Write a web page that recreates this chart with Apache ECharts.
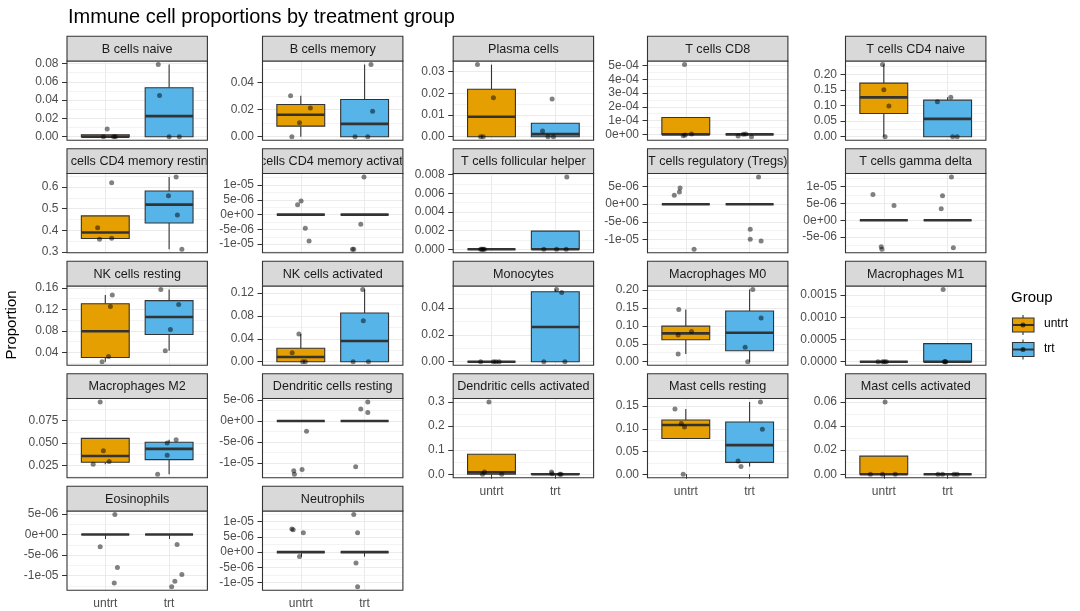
<!DOCTYPE html>
<html><head><meta charset="utf-8">
<script src="https://cdn.jsdelivr.net/npm/echarts@6/dist/echarts.min.js"></script>
<style>html,body{margin:0;padding:0;background:#fff}#c{width:1080px;height:611px}</style>
</head><body><div id="c"></div>
<script>
const panelNames = ['B cells naive','B cells memory','Plasma cells','T cells CD8','T cells CD4 naive',
  'T cells CD4 memory resting','T cells CD4 memory activated','T cells follicular helper','T cells regulatory (Tregs)','T cells gamma delta',
  'NK cells resting','NK cells activated','Monocytes','Macrophages M0','Macrophages M1',
  'Macrophages M2','Dendritic cells resting','Dendritic cells activated','Mast cells resting','Mast cells activated',
  'Eosinophils','Neutrophils'];
const groups = ['untrt','trt'];
const groupColors = ['#E69F00','#56B4E9'];
const chartTitle = 'Immune cell proportions by treatment group';
const yTitle = 'Proportion';
const legendTitle = 'Group';

const yBreaks = [
  [0,0.02,0.04,0.06,0.08],[0,0.02,0.04],[0,0.01,0.02,0.03],[0,1e-4,2e-4,3e-4,4e-4,5e-4],[0,0.05,0.1,0.15,0.2],
  [0.3,0.4,0.5,0.6],[-1e-5,-5e-6,0,5e-6,1e-5],[0,0.002,0.004,0.006,0.008],[-1e-5,-5e-6,0,5e-6],[-5e-6,0,5e-6,1e-5],
  [0.04,0.08,0.12,0.16],[0,0.04,0.08,0.12],[0,0.02,0.04],[0,0.05,0.1,0.15,0.2],[0,0.0005,0.001,0.0015],
  [0.025,0.05,0.075],[-1e-5,-5e-6,0,5e-6],[0,0.1,0.2,0.3],[0,0.05,0.1,0.15],[0,0.02,0.04,0.06],
  [-1e-5,-5e-6,0,5e-6],[-1e-5,-5e-6,0,5e-6,1e-5]];
const yLabels = [
  ['0.00','0.02','0.04','0.06','0.08'],['0.00','0.02','0.04'],['0.00','0.01','0.02','0.03'],['0e+00','1e-04','2e-04','3e-04','4e-04','5e-04'],['0.00','0.05','0.10','0.15','0.20'],
  ['0.3','0.4','0.5','0.6'],['-1e-05','-5e-06','0e+00','5e-06','1e-05'],['0.000','0.002','0.004','0.006','0.008'],['-1e-05','-5e-06','0e+00','5e-06'],['-5e-06','0e+00','5e-06','1e-05'],
  ['0.04','0.08','0.12','0.16'],['0.00','0.04','0.08','0.12'],['0.00','0.02','0.04'],['0.00','0.05','0.10','0.15','0.20'],['0.0000','0.0005','0.0010','0.0015'],
  ['0.025','0.050','0.075'],['-1e-05','-5e-06','0e+00','5e-06'],['0.0','0.1','0.2','0.3'],['0.00','0.05','0.10','0.15'],['0.00','0.02','0.04','0.06'],
  ['-1e-05','-5e-06','0e+00','5e-06'],['-1e-05','-5e-06','0e+00','5e-06','1e-05']];

// [lower whisker, Q1, median, Q3, upper whisker]
const untrtBox = [
  [0,0,0,0.002,0.002],[0,0.0078,0.0162,0.0238,0.0302],[0,0,0.0092,0.0219,0.0333],[0,0,0,0.000122,0.000122],[0,0.0741,0.1259,0.1714,0.2307],
  [0.3628,0.3628,0.3905,0.467,0.467],[0,0,0,0,0],[0,0,0,0,0],[0,0,0,0,0],[0,0,0,0,0],
  [0.0228,0.0306,0.0795,0.1308,0.1471],[0,0,0.0083,0.0235,0.0485],[0,0,0,0,0],[0.0212,0.061,0.0788,0.099,0.1456],[0,0,0,0,0],
  [0.0261,0.0284,0.0354,0.0552,0.0552],[0,0,0,0,0],[0,0,0.0075,0.083,0.083],[0.0785,0.0785,0.1085,0.1194,0.1435],[0,0,0,0.015,0.015],
  [0,0,0,0,0],[0,0,0,0,0]];
const trtBox = [
  [0,0,0.0225,0.0535,0.0789],[0,0,0.0095,0.0275,0.0533],[0,0,0.0012,0.0062,0.0062],[0,0,0,0,0],[0,0,0.0571,0.117,0.126],
  [0.3137,0.434,0.519,0.582,0.6457],[0,0,0,0,0],[0,0,0,0.00194,0.00194],[0,0,0,0,0],[0,0,0,0,0],
  [0.043,0.0733,0.1061,0.1365,0.157],[0,0,0.0362,0.085,0.1258],[0,0,0.0258,0.0521,0.0537],[0,0.0304,0.0805,0.1412,0.2009],[0,0,0,0.000405,0.000405],
  [0.015,0.0313,0.0434,0.0508,0.0537],[0,0,0,0,0],[0,0,0,0.0024,0.0024],[0.0168,0.0261,0.0641,0.115,0.1588],[0,0,0,0,0],
  [0,0,0,0,0],[0,0,0,0,0]];

// [horizontal jitter offset, value]
const untrtPoints = [
  [[0.03,0.0084],[-0.03,0],[0.13,0],[0.16,0]],
  [[-0.16,0.0302],[0.15,0.0213],[-0.02,0.0103],[-0.14,0]],
  [[-0.22,0.0333],[0.03,0.018],[-0.17,0],[-0.13,0]],
  [[-0.02,5.07e-4],[-0.04,-1e-5],[-0.01,-4e-6],[0.09,2e-6]],
  [[-0.02,0.2307],[0.0,0.150],[0.08,0.098],[0.02,0]],
  [[0.10,0.620],[-0.12,0.4128],[-0.09,0.3594],[0.10,0.364]],
  [[-0.05,3.37e-6],[0.005,4.6e-6],[0.07,-4.6e-6],[0.13,-8.9e-6]],
  [[-0.17,0],[-0.15,0],[-0.13,0],[-0.11,0]],
  [[-0.18,2.54e-6],[-0.10,3.48e-6],[-0.09,4.6e-6],[0.13,-1.28e-5]],
  [[-0.17,7.6e-6],[0.16,4.4e-6],[-0.04,-7.9e-6],[-0.03,-8.6e-6]],
  [[0.11,0.1471],[0.08,0.1257],[0.05,0.0326],[-0.05,0.0228]],
  [[-0.03,0.0485],[-0.135,0.0156],[0.03,0],[0.07,0]],
  [[-0.17,0],[0.03,0],[0.07,0],[0.12,0]],
  [[-0.11,0.1456],[0.09,0.0839],[-0.12,0.0747],[-0.12,0.0212]],
  [[-0.09,0],[-0.02,0],[0.01,0],[0.04,0]],
  [[-0.08,0.0958],[-0.03,0.0414],[-0.19,0.0261],[0.06,0.0291]],
  [[0.09,-2.46e-6],[0.02,-1.16e-5],[-0.11,-1.19e-5],[-0.10,-1.27e-5]],
  [[-0.04,0.300],[-0.11,0.0096],[-0.14,0],[0.16,0]],
  [[-0.17,0.1435],[-0.07,0.1114],[-0.02,0.1041],[-0.04,0]],
  [[0.02,0.060],[-0.21,0],[-0.02,0],[0.18,0]],
  [[0.15,4.84e-6],[-0.08,-2.98e-6],[0.19,-8.06e-6],[0.14,-1.18e-5]],
  [[-0.14,7.57e-6],[-0.12,7.35e-6],[0.04,6.38e-6],[-0.02,-1.4e-6]]];
const trtPoints = [
  [[-0.17,0.0789],[-0.15,0.0451],[0,0],[0.16,0]],
  [[0.10,0.0533],[0.125,0.0189],[-0.15,0],[0.05,0]],
  [[-0.05,0.0174],[-0.20,0.0026],[-0.115,0],[-0.03,0]],
  [[-0.18,-1.2e-5],[-0.1,0],[-0.06,2e-6],[0.03,-1.7e-5]],
  [[-0.16,0.112],[0.05,0.126],[0.08,0],[0.15,0]],
  [[0.11,0.6457],[-0.01,0.560],[0.13,0.4715],[0.20,0.3137]],
  [[-0.01,1.27e-5],[-0.06,-3.26e-6],[-0.19,-1.17e-5],[-0.17,-1.17e-5]],
  [[0.18,0.00774],[-0.18,0],[0.02,0],[0.17,0]],
  [[0.14,7.7e-6],[0.01,-7.15e-6],[0.01,-1.0e-5],[0.18,-1.045e-5]],
  [[0.06,1.28e-5],[-0.08,7.25e-6],[-0.10,3.43e-6],[0.09,-8.2e-6]],
  [[-0.13,0.157],[0.15,0.1294],[0.02,0.0828],[-0.06,0.043]],
  [[-0.03,0.1258],[-0.02,0.0716],[-0.18,0],[0.06,0]],
  [[0.02,0.0537],[0.10,0.0515],[-0.18,0],[0.15,0]],
  [[0.05,0.2009],[0.18,0.1217],[-0.07,0.0406],[-0.03,0]],
  [[-0.07,0.00162],[-0.05,0],[-0.04,0],[-0.03,0]],
  [[0.11,0.0537],[-0.03,0.050],[-0.03,0.0362],[-0.18,0.0150]],
  [[0.05,4.52e-6],[-0.06,2.86e-6],[0.05,2.06e-6],[-0.14,-1.09e-5]],
  [[-0.06,0.009],[-0.05,0.002],[0.07,0],[0.09,0]],
  [[0.17,0.1588],[0.2,0.099],[-0.18,0.0291],[-0.135,0.0168]],
  [[-0.15,0],[-0.08,0],[0.10,0],[0.15,0]],
  [[0.125,-2.42e-6],[0.20,-9.76e-6],[0.09,-1.14e-5],[0.04,-1.27e-5]],
  [[-0.17,1.232e-5],[-0.11,6.38e-6],[-0.135,-3.57e-6],[-0.11,-1.135e-5]]];

// ---------- layout / style ----------
const FONT = '"Liberation Sans", Arial, sans-serif';
const colLeft = [67, 262.5, 453.2, 647.5, 845.5];
const rowTop = [61, 173.5, 286, 398.5, 511];
const PW = 140.4, PH = 79.3, SH = 24.8;
const bottomPanels = [17,18,19,20,21];
const AX = '#333333', TXT = '#4D4D4D', GRID = '#EBEBEB';

const grids = [], xAxes = [], yAxes = [], series = [];
const boxSets = [untrtBox, trtBox];
const pointSets = [untrtPoints, trtPoints];

panelNames.forEach((name, i) => {
  const r = Math.floor(i / 5), c = i % 5;
  grids.push({left: colLeft[c], top: rowTop[r], width: PW, height: PH, show: true,
    backgroundColor: '#fff', borderWidth: 0, containLabel: false, outerBoundsMode: 'none'});
  const vals = [];
  pointSets.forEach(ps => ps[i].forEach(p => vals.push(p[1])));
  boxSets.forEach(bs => bs[i].forEach(v => vals.push(v)));
  const lo = Math.min(...vals), hi = Math.max(...vals), pad = (hi - lo) * 0.05;
  const ymin = lo - pad, ymax = hi + pad;
  const br = yBreaks[i];
  const step = br[1] - br[0];
  const ext = [br[0] - step].concat(br, [br[br.length - 1] + step]);
  const minors = [];
  for (let k = 0; k < ext.length - 1; k++) {
    const m = (ext[k] + ext[k + 1]) / 2;
    if (m > ymin && m < ymax) minors.push(m);
  }
  const isBottom = bottomPanels.indexOf(i) >= 0;
  xAxes.push({type: 'value', gridIndex: i, min: 0.4, max: 2.6,
    axisLine: {show: false},
    axisTick: {show: isBottom, customValues: [1, 2], length: 4.5, lineStyle: {color: AX, width: 1}},
    axisLabel: {show: isBottom, customValues: [1, 2], formatter: v => groups[Math.round(v) - 1],
      color: TXT, fontSize: 12, fontFamily: FONT, margin: 7.5},
    splitLine: {show: true, lineStyle: {color: GRID, width: 1}}});
  const tol = (ymax - ymin) * 1e-6;
  yAxes.push({type: 'value', gridIndex: i, min: ymin, max: ymax, position: 'left',
    axisLine: {show: false},
    axisTick: {show: true, customValues: br, length: 5, lineStyle: {color: AX, width: 1}},
    axisLabel: {customValues: br, color: TXT, fontSize: 12, fontFamily: FONT, margin: 8.5,
      formatter: v => { for (let j = 0; j < br.length; j++) if (Math.abs(br[j] - v) < tol) return yLabels[i][j]; return ''; }},
    splitLine: {show: true, lineStyle: {color: GRID, width: 1}}});
  yAxes.push({type: 'value', gridIndex: i, min: ymin, max: ymax, position: 'right',
    axisLine: {show: false}, axisTick: {show: false, customValues: minors}, axisLabel: {show: false},
    splitLine: {show: true, lineStyle: {color: GRID, width: 0.6}}});

  // boxes
  series.push({type: 'custom', xAxisIndex: i, yAxisIndex: 2 * i, z: 2, silent: true, clip: false,
    data: groups.map((g, k) => [k + 1].concat(boxSets[k][i])),
    encode: {x: 0, y: [1, 2, 3, 4, 5]},
    renderItem: (params, api) => {
      const x = api.value(0);
      const wlo = api.value(1), q1 = api.value(2), med = api.value(3), q3 = api.value(4), whi = api.value(5);
      const a = api.coord([x - 0.375, q3]), b = api.coord([x + 0.375, q1]);
      const m1 = api.coord([x - 0.375, med]), m2 = api.coord([x + 0.375, med]);
      const cx = api.coord([x, q3])[0];
      const yHi = api.coord([x, whi])[1], yLo = api.coord([x, wlo])[1];
      return {type: 'group', children: [
        {type: 'line', shape: {x1: cx, y1: a[1], x2: cx, y2: yHi}, style: {stroke: AX, lineWidth: 1.1}},
        {type: 'line', shape: {x1: cx, y1: b[1], x2: cx, y2: yLo}, style: {stroke: AX, lineWidth: 1.1}},
        {type: 'rect', shape: {x: a[0], y: a[1], width: b[0] - a[0], height: b[1] - a[1]},
          style: {fill: groupColors[params.dataIndex], stroke: AX, lineWidth: 1.1}},
        {type: 'line', shape: {x1: m1[0], y1: m1[1], x2: m2[0], y2: m2[1]}, style: {stroke: AX, lineWidth: 2.6}}
      ]};
    }});
  // jittered points
  const pts = [];
  pointSets.forEach((ps, k) => ps[i].forEach(p => pts.push([k + 1 + p[0], p[1]])));
  series.push({type: 'scatter', xAxisIndex: i, yAxisIndex: 2 * i, z: 3, silent: true,
    symbol: 'circle', symbolSize: 5, itemStyle: {color: 'rgba(0,0,0,0.62)'}, data: pts});
  // strip + panel border
  series.push({type: 'custom', xAxisIndex: i, yAxisIndex: 2 * i, z: 5, silent: true, clip: false,
    data: [[1, ymin]], encode: {x: 0, y: 1},
    renderItem: (params, api) => {
      const cs = params.coordSys;
      return {type: 'group', children: [
        {type: 'rect', shape: {x: cs.x, y: cs.y, width: cs.width, height: cs.height},
          style: {fill: 'none', stroke: AX, lineWidth: 1.1}},
        {type: 'rect', shape: {x: cs.x, y: cs.y - SH, width: cs.width, height: SH},
          style: {fill: '#D9D9D9', stroke: AX, lineWidth: 1.1}},
        {type: 'text', x: cs.x + cs.width / 2, y: cs.y - SH / 2 + 0.5,
          style: {text: name, fontSize: 12.6, fontFamily: FONT, fill: '#1A1A1A', align: 'center', verticalAlign: 'middle'},
          clipPath: {type: 'rect', shape: {x: -cs.width / 2 + 1, y: -SH / 2, width: cs.width - 2, height: SH}}}
      ]};
    }});
});

// legend (drawn as graphic keys)
const legendEls = [{type: 'text', left: 1011, top: 290, style: {text: legendTitle, fontSize: 15, fontFamily: FONT, fill: '#000'}}];
groups.forEach((g, k) => {
  const cy = 325 + 24.5 * k;
  legendEls.push(
    {type: 'line', shape: {x1: 1023, y1: cy - 10, x2: 1023, y2: cy + 10}, style: {stroke: AX, lineWidth: 1.1}},
    {type: 'rect', shape: {x: 1012.5, y: cy - 7, width: 21.5, height: 14}, style: {fill: groupColors[k], stroke: AX, lineWidth: 1.1}},
    {type: 'line', shape: {x1: 1012.5, y1: cy, x2: 1034, y2: cy}, style: {stroke: AX, lineWidth: 2}},
    {type: 'circle', shape: {cx: 1023, cy: cy, r: 2.5}, style: {fill: 'rgba(0,0,0,0.62)'}},
    {type: 'text', left: 1044, top: cy - 7, style: {text: g, fontSize: 12, fontFamily: FONT, fill: '#000'}}
  );
});
legendEls.push({type: 'text', x: 12, y: 325, rotation: Math.PI / 2,
  style: {text: yTitle, fontSize: 15, fontFamily: FONT, fill: '#000', align: 'center', verticalAlign: 'middle'}});

const chart = echarts.init(document.getElementById('c'), null, {renderer: 'canvas'});
chart.setOption({
  animation: false,
  backgroundColor: '#fff',
  title: {text: chartTitle, left: 68, top: 7, padding: 0, textStyle: {fontSize: 20, fontWeight: 'normal', color: '#000', fontFamily: FONT}},
  grid: grids, xAxis: xAxes, yAxis: yAxes, series: series,
  graphic: legendEls
});
</script></body></html>
